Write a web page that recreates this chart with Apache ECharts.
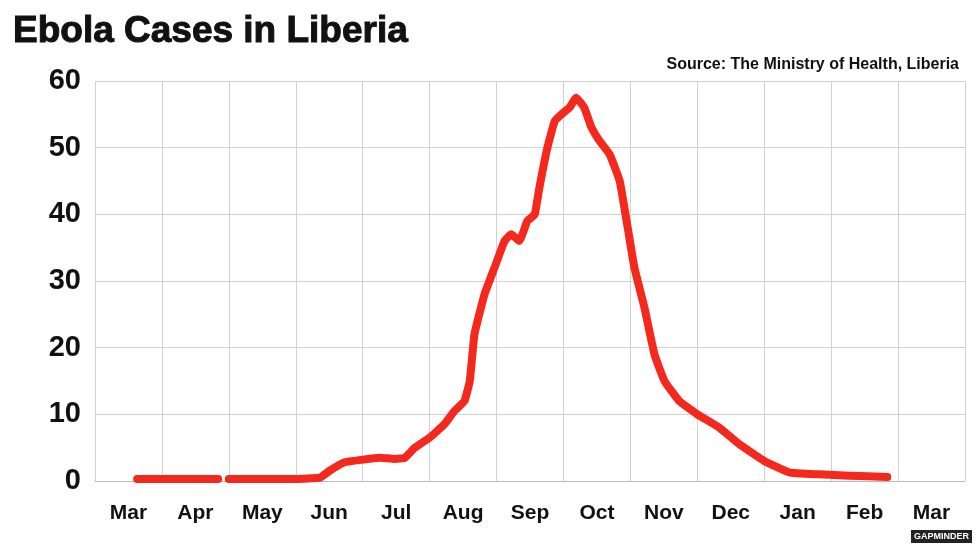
<!DOCTYPE html>
<html>
<head>
<meta charset="utf-8">
<script src="https://cdn.jsdelivr.net/npm/echarts@6/dist/echarts.min.js"></script>
<style>html,body{margin:0;padding:0;background:#fff}#chart{width:976px;height:549px}</style>
</head>
<body>
<div id="chart"></div>
<script>
// month labels under the axis
var months = ["Mar", "Apr", "May", "Jun", "Jul", "Aug", "Sep", "Oct", "Nov", "Dec", "Jan", "Feb", "Mar"]
// x position in months since 1 Mar
var monthPos = [0.63, 1.0, 1.5, 1.84, null, 2.0, 3.0, 3.36, 3.5, 3.73, 4.0, 4.25, 4.48, 4.63, 4.78, 5.0, 5.22, 5.37, 5.52, 5.6, 5.67, 5.82, 5.97, 6.12, 6.22, 6.34, 6.46, 6.57, 6.64, 6.76, 6.87, 6.97, 7.09, 7.19, 7.31, 7.42, 7.54, 7.69, 7.84, 7.96, 8.06, 8.21, 8.36, 8.51, 8.73, 9.0, 9.33, 9.63, 10.0, 10.37, 10.82, 11.27, 11.84]
var cases = [0.3, 0.3, 0.3, 0.3, null, 0.3, 0.3, 0.5, 1.5, 2.8, 3.2, 3.5, 3.3, 3.5, 5, 6.5, 8.5, 10.5, 12, 15, 22, 28, 32, 36, 37, 36, 39, 40, 44, 50, 54, 55, 56, 57.5, 56, 53, 51, 49, 45, 38, 32, 26, 19, 15, 12, 10, 8, 5.5, 3, 1.3, 1, 0.8, 0.6]

var data = monthPos.map(function (x, i) { return x === null ? [null, null] : [x, cases[i]] })
var bold = { fontFamily: "Liberation Sans", fontWeight: "bold", color: "#111" }

var myEcharts = echarts.init(document.getElementById("chart"))
myEcharts.setOption({
    animation: false,
    title: [
        { text: "Ebola Cases in Liberia", left: 8, top: 8, textStyle: Object.assign({ fontSize: 37, textBorderColor: "#111", textBorderWidth: 1 }, bold) },
        { text: "Source: The Ministry of Health, Liberia", right: 12, top: 52, textStyle: Object.assign({ fontSize: 16 }, bold) },
        { text: "GAPMINDER", right: 4, bottom: 6, backgroundColor: "#222", padding: [2, 3],
          textStyle: { fontSize: 9, color: "#fff", fontWeight: "bold", fontFamily: "Liberation Sans" } }
    ],
    grid: { left: 95, right: 11, top: 81, bottom: 68 },
    xAxis: [
        {
            type: "value", min: 0, max: 13, interval: 1,
            axisLabel: { show: false }, axisTick: { show: false },
            axisLine: { show: true, lineStyle: { color: "#bbb" } },
            splitLine: { show: true, lineStyle: { color: "#d0d0d0" } }
        },
        {
            type: "category", data: months, position: "bottom", boundaryGap: true,
            axisLine: { show: false }, axisTick: { show: false }, splitLine: { show: false },
            axisLabel: Object.assign({ fontSize: 21, margin: 22 }, bold)
        }
    ],
    yAxis: {
        type: "value", min: 0, max: 60, interval: 10,
        axisLabel: Object.assign({ fontSize: 29, margin: 14 }, bold),
        axisLine: { show: false }, axisTick: { show: false },
        splitLine: { lineStyle: { color: "#d0d0d0" } }
    },
    series: [{
        type: "line", xAxisIndex: 0, data: data, showSymbol: false, smooth: 0.12,
        connectNulls: false,
        lineStyle: { color: "#f5281e", width: 8, cap: "round", join: "round" }
    }]
})
</script>
</body>
</html>
